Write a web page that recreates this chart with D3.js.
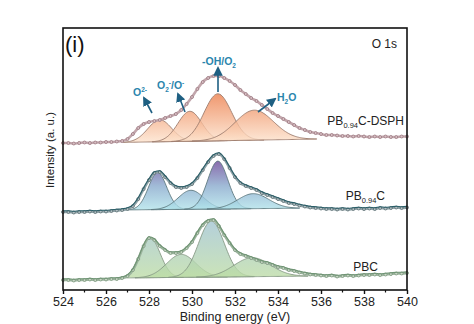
<!DOCTYPE html>
<html><head><meta charset="utf-8">
<script src="https://cdn.jsdelivr.net/npm/d3@7"></script>
<style>
body{margin:0;background:#fff}
svg{display:block}
text{font-family:"Liberation Sans",Arial,sans-serif}
</style>
</head><body>
<svg id="c" width="474" height="324"></svg>
<script>
// ---------------- DATA ----------------
const xTicks = [524, 526, 528, 530, 532, 534, 536, 538, 540];
const xMinorTicks = [525, 527, 529, 531, 533, 535, 537, 539];
const energyStart = 524, energyStep = 0.25;

// measured O 1s spectra (a.u., stacked offsets included), 524 → 540 eV every 0.25 eV
const pbcData = [10,10,9.5,10,10,10.5,10,10.5,10.5,11,11,12,14,20,31,44,52,50,44,40,37,37,38,42,48,57,65,69,70,64,55,47,40,36,34,32,30,28,27,25,23,22,20,19,17.5,16.5,15.5,15,14.5,14,14.5,13.5,14,14.5,14,14.5,15,15,15.5,15,15.5,16,16.5,16.5,17];
const pb094cData = [78,78,77.5,78,78,78.5,78,78.5,78.5,79,79.5,80,81,84,91,101,110,117,118,113,107,103,102,103,106,112,120,128,134,136,131,122,113,107,104,102,100,97,95,93,91,89,87,86,84.5,83.5,82.5,82,81.5,81,81,80.5,81,80.5,81,81.5,81,81.5,81,82,81.5,82,82.5,82,82.5];
const dsphData = [147,147,146.5,147,147.5,147,147.5,147.5,148,148,148.5,149,151,156,162,166,168,169,170,172,174,176,180,186,193,201,208,212,214,214,212,209,205,200,196,192,189,185,181,177,174,171,168,165,162,160,158,157,156,155,155,154.5,154,154,153.5,154,153.5,153,153.5,153,153.5,153,153,153.5,153.5];

// fitted components: centre (eV), height above fit baseline, FWHM (eV)
const pbcCenters = [528.05, 529.5, 530.9, 532.8];
const pbcHeights = [40, 23, 56, 19];
const pbcFwhm = [1.1, 1.6, 1.4, 2.0];
const pb094cCenters = [528.4, 529.95, 531.2, 532.85];
const pb094cHeights = [37, 19, 48, 15];
const pb094cFwhm = [1.0, 1.4, 1.1, 1.7];
const dsphCenters = [528.5, 529.9, 531.2, 532.9];
const dsphHeights = [22, 30, 47, 30];
const dsphFwhm = [1.3, 1.3, 1.5, 2.1];

// fit baselines (left at 526.5 eV, right at 536 eV)
const fitBaseLeft = [12, 80, 147.5];
const fitBaseRight = [14, 82, 151];
const fitRange = [526.5, 536];

const sampleLabels = ["PBC", "PB|0.94|C", "PB|0.94|C-DSPH"];

// ---------------- LAYOUT ----------------
const svg = d3.select("#c");
const L = 63, R = 407, T = 28, B = 290;
const x = d3.scaleLinear().domain([524, 540]).range([L, R]);
const y = d3.scaleLinear().domain([0, 262]).range([B, T]);

const styles = [
  {g: ["#a0c3d0", "#bcdca4"], stroke: "#879a86", dot: "#7a957c", dotFill: "#c9d8c6", line: "#9bb49d", lw: 2.6, top: "#6f9474"},
  {g: ["#6a4798", "#86a8cc", "#b0e3ea"], stroke: "#5f7a80", dot: "#5a6c70", dotFill: "#b4c2c6", line: "#8fa3a8", lw: 2.6, top: "#2a5e68"},
  {g: ["#ec7f4c", "#fde3cd"], stroke: "#9d7d6e", dot: "#9a7880", dotFill: "#d8bfc4", line: "#c2a6ac", lw: 2.6, top: null}
];

const datasets = [pbcData, pb094cData, dsphData];
const comps = [
  [pbcCenters, pbcHeights, pbcFwhm],
  [pb094cCenters, pb094cHeights, pb094cFwhm],
  [dsphCenters, dsphHeights, dsphFwhm]
];

const defs = svg.append("defs");
const fitE = d3.range(fitRange[0], fitRange[1] + 0.001, 0.05);

datasets.forEach((data, si) => {
  const st = styles[si];
  const [cs, hs, ws] = comps[si];
  const base = e => fitBaseLeft[si] + (fitBaseRight[si] - fitBaseLeft[si]) * (e - fitRange[0]) / (fitRange[1] - fitRange[0]);
  const maxH = d3.max(hs);
  const gid = "grad" + si;
  const grad = defs.append("linearGradient").attr("id", gid)
    .attr("gradientUnits", "userSpaceOnUse")
    .attr("x1", 0).attr("x2", 0)
    .attr("y1", y(fitBaseLeft[si] + maxH)).attr("y2", y(fitBaseLeft[si]));
  st.g.forEach((c, i) => grad.append("stop").attr("offset", i / (st.g.length - 1)).attr("stop-color", c));

  const g = svg.append("g");
  cs.forEach((c, k) => {
    const pts = fitE.map(e => {
      const v = hs[k] * Math.exp(-4 * Math.LN2 * Math.pow((e - c) / ws[k], 2));
      return {e, b: base(e), v: base(e) + v};
    }).filter(p => p.v - p.b > 0.15);
    const area = d3.area().x(p => x(p.e)).y0(p => y(p.b)).y1(p => y(p.v)).curve(d3.curveBasis);
    g.append("path").datum(pts).attr("d", area)
      .attr("fill", `url(#${gid})`).attr("fill-opacity", 0.78)
      .attr("stroke", st.stroke).attr("stroke-width", 0.9);
  });

  const pts = data.map((v, i) => ({e: energyStart + i * energyStep, v}));
  const ln = d3.line().x(p => x(p.e)).y(p => y(p.v)).curve(d3.curveMonotoneX);
  g.append("path").datum(pts).attr("d", ln)
    .attr("fill", "none").attr("stroke", st.line).attr("stroke-width", st.lw);
  g.selectAll("circle").data(pts).join("circle")
    .attr("cx", p => x(p.e)).attr("cy", p => y(p.v)).attr("r", 1.5)
    .attr("fill", st.dotFill).attr("stroke", st.dot).attr("stroke-width", 0.8);
  if (st.top) {
    g.append("path").datum(pts).attr("d", ln)
      .attr("fill", "none").attr("stroke", st.top).attr("stroke-width", 1.1)
      .attr("transform", "translate(0,-1.2)");
  }
});

// ---------------- FRAME & AXIS ----------------
svg.append("rect").attr("x", L).attr("y", T).attr("width", R - L).attr("height", B - T)
  .attr("fill", "none").attr("stroke", "#111").attr("stroke-width", 1.6);

const axis = d3.axisBottom(x).tickValues(xTicks).tickFormat(d3.format("d")).tickSize(4).tickPadding(3);
const ax = svg.append("g").attr("transform", `translate(0,${B})`).call(axis);
ax.select(".domain").remove();
ax.selectAll("line").attr("stroke", "#111").attr("stroke-width", 1.4);
ax.selectAll("text").attr("font-size", 12.5).attr("fill", "#222");
svg.append("g").selectAll("line").data(xMinorTicks).join("line")
  .attr("x1", d => x(d)).attr("x2", d => x(d)).attr("y1", B).attr("y2", B + 2.5)
  .attr("stroke", "#111").attr("stroke-width", 1.2);

svg.append("text").attr("x", 235).attr("y", 321).attr("text-anchor", "middle")
  .attr("font-size", 12.5).attr("fill", "#222").text("Binding energy (eV)");
svg.append("text").attr("transform", `translate(54,150) rotate(-90)`).attr("text-anchor", "middle")
  .attr("font-size", 11.5).attr("fill", "#222").text("Intensity (a. u.)");

svg.append("text").attr("x", 65).attr("y", 52).attr("font-size", 22).attr("fill", "#111").text("(i)");
svg.append("text").attr("x", 397).attr("y", 48).attr("text-anchor", "end")
  .attr("font-size", 12).attr("fill", "#222").text("O 1s");

// sample labels with subscripts
const labelPos = [[378, 271], [385, 200], [404, 125]];
sampleLabels.forEach((lab, i) => {
  const parts = lab.split("|");
  const t = svg.append("text").attr("x", labelPos[i][0]).attr("y", labelPos[i][1])
    .attr("text-anchor", "end").attr("font-size", 12).attr("fill", "#222");
  parts.forEach((p, j) => {
    const sub = j % 2 === 1;
    t.append("tspan").attr("font-size", sub ? 7.5 : 12)
      .attr("dy", sub ? 3 : (j > 0 ? -3 : 0)).text(p);
  });
});

// ---------------- ANNOTATIONS ----------------
const annColor = "#2a85ad", arrowColor = "#1e5f82";
defs.append("marker").attr("id", "ah").attr("viewBox", "0 0 10 10").attr("refX", 8).attr("refY", 5)
  .attr("markerWidth", 6).attr("markerHeight", 6).attr("orient", "auto")
  .append("path").attr("d", "M0,0L10,5L0,10z").attr("fill", arrowColor);

const arrows = [[152, 113, 144, 98], [185, 112, 178, 94], [218, 92, 218, 68], [258, 112, 275, 99]];
arrows.forEach(a => svg.append("line").attr("x1", a[0]).attr("y1", a[1]).attr("x2", a[2]).attr("y2", a[3])
  .attr("stroke", arrowColor).attr("stroke-width", 1.6).attr("marker-end", "url(#ah)"));

function rich(xp, yp, segs, anchor) {
  const t = svg.append("text").attr("x", xp).attr("y", yp).attr("font-size", 10.5)
    .attr("font-weight", "bold").attr("fill", annColor).attr("text-anchor", anchor || "start");
  let cur = 0;
  segs.forEach(([txt, kind]) => {
    const off = kind === "sub" ? 3 : kind === "sup" ? -4 : 0;
    t.append("tspan").attr("dy", off - cur).attr("font-size", kind ? 6.5 : 10.5).text(txt);
    cur = off;
  });
}
rich(133, 96, [["O", null], ["2-", "sup"]]);
rich(157, 89, [["O", null], ["2", "sub"], ["-", "sup"], ["/O", null], ["-", "sup"]]);
rich(202, 65, [["-OH/O", null], ["2", "sub"]]);
rich(277, 101, [["H", null], ["2", "sub"], ["O", null]]);
</script>
</body></html>
